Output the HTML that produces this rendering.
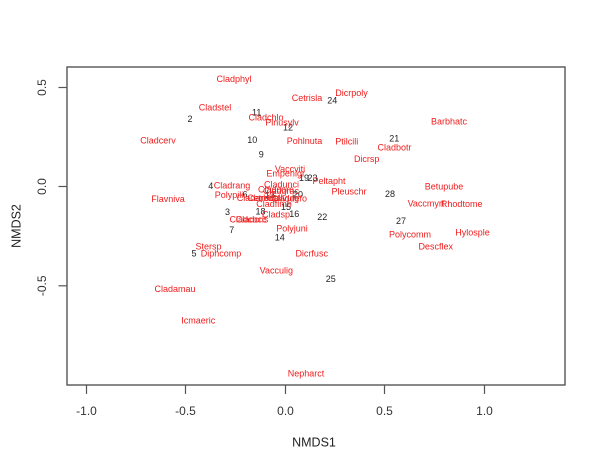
<!DOCTYPE html>
<html>
<head>
<meta charset="utf-8">
<style>
  html, body { margin: 0; padding: 0; background: #ffffff; }
  svg { display: block; }
  .sp { font-family: "Liberation Sans", sans-serif; font-size: 9px; fill: #f01c1c; }
  .st { font-family: "Liberation Sans", sans-serif; font-size: 9px; fill: #222222; }
  .tk { font-family: "Liberation Sans", sans-serif; font-size: 12px; fill: #333333; }
  .ax { font-family: "Liberation Sans", sans-serif; font-size: 12.5px; fill: #222222; }
</style>
</head>
<body>
<svg width="600" height="469" viewBox="0 0 600 469" xmlns="http://www.w3.org/2000/svg">
  <rect x="0" y="0" width="600" height="469" fill="#ffffff"/>
  <!-- plot box -->
  <rect x="67" y="67" width="498" height="318" fill="none" stroke="#555555" stroke-width="1.4"/>
  <!-- x ticks -->
  <g stroke="#555555" stroke-width="1.2">
    <line x1="86.5" y1="385" x2="86.5" y2="394"/>
    <line x1="185.5" y1="385" x2="185.5" y2="394"/>
    <line x1="285.5" y1="385" x2="285.5" y2="394"/>
    <line x1="384.5" y1="385" x2="384.5" y2="394"/>
    <line x1="484.5" y1="385" x2="484.5" y2="394"/>
    <line x1="58.5" y1="87.5" x2="67" y2="87.5"/>
    <line x1="58.5" y1="186.5" x2="67" y2="186.5"/>
    <line x1="58.5" y1="285.8" x2="67" y2="285.8"/>
  </g>
  <!-- x tick labels -->
  <g class="tk" text-anchor="middle">
    <text x="86.5" y="415">-1.0</text>
    <text x="185.5" y="415">-0.5</text>
    <text x="285.5" y="415">0.0</text>
    <text x="384.5" y="415">0.5</text>
    <text x="484.5" y="415">1.0</text>
  </g>
  <!-- y tick labels (rotated) -->
  <g class="tk" text-anchor="middle">
    <text x="42" y="87.5" dy="4.2" transform="rotate(-90 42 87.5)">0.5</text>
    <text x="42" y="186.5" dy="4.2" transform="rotate(-90 42 186.5)">0.0</text>
    <text x="42" y="285.8" dy="4.2" transform="rotate(-90 42 285.8)">-0.5</text>
  </g>
  <!-- axis titles -->
  <text class="ax" x="314" y="446.5" text-anchor="middle">NMDS1</text>
  <text class="ax" x="16" y="226" dy="4.4" text-anchor="middle" transform="rotate(-90 16 226)">NMDS2</text>

  <!-- sites -->
  <g class="st" text-anchor="middle">
    <text x="190" y="121.8">2</text>
    <text x="256.7" y="115.4">11</text>
    <text x="332.3" y="103.4">24</text>
    <text x="288" y="130.4">12</text>
    <text x="252.3" y="143.1">10</text>
    <text x="261.3" y="157.6">9</text>
    <text x="394.3" y="141.4">21</text>
    <text x="304" y="181.1">19</text>
    <text x="312.5" y="181.1">23</text>
    <text x="210.7" y="189.1">4</text>
    <text x="390" y="196.8">28</text>
    <text x="245" y="197.4">6</text>
    <text x="270" y="198.1">13</text>
    <text x="298" y="197.6">20</text>
    <text x="286" y="210.1">15</text>
    <text x="260.5" y="214.6">18</text>
    <text x="227.5" y="215.1">3</text>
    <text x="294.3" y="216.8">16</text>
    <text x="322.3" y="219.8">22</text>
    <text x="401" y="223.8">27</text>
    <text x="231.7" y="233.1">7</text>
    <text x="279.7" y="240.4">14</text>
    <text x="194" y="256.4">5</text>
    <text x="330.7" y="281.8">25</text>
  </g>

  <!-- species -->
  <g class="sp" text-anchor="middle">
    <text x="234" y="82">Cladphyl</text>
    <text x="307" y="101">Cetrisla</text>
    <text x="351.5" y="96">Dicrpoly</text>
    <text x="215" y="110.5">Cladstel</text>
    <text x="266" y="120.5">Cladchlo</text>
    <text x="282" y="125.7">Pinusylv</text>
    <text x="449" y="124.3">Barbhatc</text>
    <text x="158" y="143.7">Cladcerv</text>
    <text x="304.5" y="144">Pohlnuta</text>
    <text x="346.7" y="144.3">Ptilcili</text>
    <text x="394.5" y="150.7">Cladbotr</text>
    <text x="366.7" y="162">Dicrsp</text>
    <text x="290" y="172">Vaccviti</text>
    <text x="285.7" y="176.3">Empenigr</text>
    <text x="329" y="184">Peltapht</text>
    <text x="281.5" y="187.3">Cladunci</text>
    <text x="232" y="188.7">Cladrang</text>
    <text x="444" y="189.3">Betupube</text>
    <text x="276" y="192.5">Cladcorn</text>
    <text x="281" y="194">Cladgrac</text>
    <text x="349" y="194.3">Pleuschr</text>
    <text x="229" y="198">Polypili</text>
    <text x="255" y="201">Cladarbu</text>
    <text x="263" y="201">Cetreric</text>
    <text x="283" y="201">Callvulg</text>
    <text x="289" y="201.5">Claddefo</text>
    <text x="168" y="202">Flavniva</text>
    <text x="426" y="206.3">Vaccmyrt</text>
    <text x="461.7" y="207">Rhodtome</text>
    <text x="274" y="207">Cladfimb</text>
    <text x="276" y="217.3">Cladsp</text>
    <text x="248" y="222.3">Cladcocc</text>
    <text x="252" y="222.3">Cladcris</text>
    <text x="292" y="231.7">Polyjuni</text>
    <text x="472.5" y="235.7">Hylosple</text>
    <text x="410" y="237.3">Polycomm</text>
    <text x="208.5" y="249.3">Stersp</text>
    <text x="435.7" y="249.7">Descflex</text>
    <text x="221" y="256.3">Diphcomp</text>
    <text x="311.7" y="256.3">Dicrfusc</text>
    <text x="276.3" y="273.3">Vacculig</text>
    <text x="175" y="292">Cladamau</text>
    <text x="198.3" y="323.7">Icmaeric</text>
    <text x="306" y="376.3">Nepharct</text>
  </g>
</svg>
</body>
</html>
